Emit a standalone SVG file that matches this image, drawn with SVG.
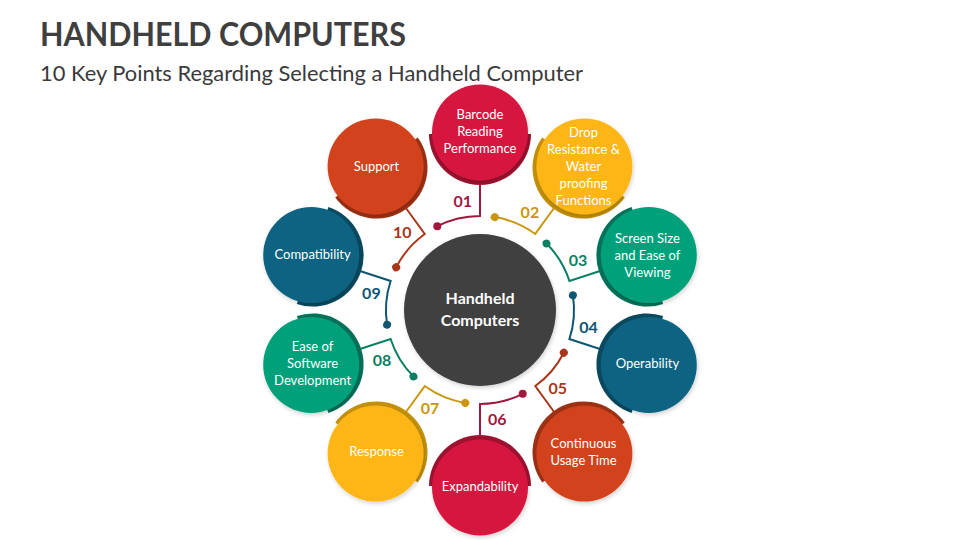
<svg xmlns="http://www.w3.org/2000/svg" width="960" height="540" viewBox="0 0 960 540">
<style>
.title{font-family:Lato,"Open Sans","Liberation Sans",sans-serif;font-weight:bold;font-size:33px;fill:#3f3f3f}
.sub{font-family:Lato,"Open Sans","Liberation Sans",sans-serif;font-size:21px;fill:#3a3a3a}
.nt{font-family:Lato,"Open Sans","Liberation Sans",sans-serif;font-size:13px;fill:#ffffff;text-anchor:middle}
.ct{font-family:Lato,"Open Sans","Liberation Sans",sans-serif;font-size:16px;font-weight:bold;fill:#ffffff;text-anchor:middle}
.num{font-family:Lato,"Open Sans","Liberation Sans",sans-serif;font-size:16px;font-weight:bold;text-anchor:middle}
.conn{fill:none;stroke-width:2}
.crimson{fill:#D7163F}.crimsonD{fill:#9E1230}
.amber{fill:#FDB614}.amberD{fill:#C4900A}
.green{fill:#06A17A}.greenD{fill:#06725A}
.blue{fill:#0F6381}.blueD{fill:#0A4A60}
.orange{fill:#D2431E}.orangeD{fill:#9E3114}
</style>
<defs>
<path id="half" d="M-51 0 A51 51 0 0 0 51 0 Z"/>
<filter id="sh" x="-20%" y="-20%" width="140%" height="140%"><feDropShadow dx="1" dy="2" stdDeviation="2" flood-color="#000" flood-opacity="0.18"/></filter>
</defs>
<text class="title" x="40" y="46" textLength="366" lengthAdjust="spacingAndGlyphs">HANDHELD COMPUTERS</text>
<text class="sub" x="40" y="81" textLength="543" lengthAdjust="spacingAndGlyphs">10 Key Points Regarding Selecting a Handheld Computer</text>

<g id="connectors">
<g id="c01" stroke="#A3173F" fill="#A3173F"><path class="conn" d="M480 183 V216 A94 94 0 0 0 437.3 226.2"/><circle cx="437.3" cy="226.2" r="4" stroke="none"/></g>
<g id="c02" stroke="#C9960E" fill="#C9960E" transform="rotate(36 480 310)"><path class="conn" d="M480 183 V216 A94 94 0 0 0 437.3 226.2"/><circle cx="437.3" cy="226.2" r="4" stroke="none"/></g>
<g id="c03" stroke="#0A7F62" fill="#0A7F62" transform="rotate(72 480 310)"><path class="conn" d="M480 183 V216 A94 94 0 0 0 437.3 226.2"/><circle cx="437.3" cy="226.2" r="4" stroke="none"/></g>
<g id="c04" stroke="#0F5673" fill="#0F5673" transform="rotate(108 480 310)"><path class="conn" d="M480 183 V216 A94 94 0 0 0 437.3 226.2"/><circle cx="437.3" cy="226.2" r="4" stroke="none"/></g>
<g id="c05" stroke="#A8371A" fill="#A8371A" transform="rotate(144 480 310)"><path class="conn" d="M480 183 V216 A94 94 0 0 0 437.3 226.2"/><circle cx="437.3" cy="226.2" r="4" stroke="none"/></g>
<g id="c06" stroke="#A3173F" fill="#A3173F" transform="rotate(180 480 310)"><path class="conn" d="M480 183 V216 A94 94 0 0 0 437.3 226.2"/><circle cx="437.3" cy="226.2" r="4" stroke="none"/></g>
<g id="c07" stroke="#C9960E" fill="#C9960E" transform="rotate(216 480 310)"><path class="conn" d="M480 183 V216 A94 94 0 0 0 437.3 226.2"/><circle cx="437.3" cy="226.2" r="4" stroke="none"/></g>
<g id="c08" stroke="#0A7F62" fill="#0A7F62" transform="rotate(252 480 310)"><path class="conn" d="M480 183 V216 A94 94 0 0 0 437.3 226.2"/><circle cx="437.3" cy="226.2" r="4" stroke="none"/></g>
<g id="c09" stroke="#0F5673" fill="#0F5673" transform="rotate(288 480 310)"><path class="conn" d="M480 183 V216 A94 94 0 0 0 437.3 226.2"/><circle cx="437.3" cy="226.2" r="4" stroke="none"/></g>
<g id="c10" stroke="#A8371A" fill="#A8371A" transform="rotate(324 480 310)"><path class="conn" d="M480 183 V216 A94 94 0 0 0 437.3 226.2"/><circle cx="437.3" cy="226.2" r="4" stroke="none"/></g>
</g>

<g id="labels">
<text class="num" fill="#A3173F" x="462.8" y="207.4">01</text>
<text class="num" fill="#C9960E" x="529.9" y="218">02</text>
<text class="num" fill="#0A7F62" x="578" y="266.1">03</text>
<text class="num" fill="#0F5673" x="588.6" y="333.2">04</text>
<text class="num" fill="#A8371A" x="557.8" y="393.8">05</text>
<text class="num" fill="#A3173F" x="497.2" y="424.6">06</text>
<text class="num" fill="#C9960E" x="430.1" y="414">07</text>
<text class="num" fill="#0A7F62" x="382" y="365.9">08</text>
<text class="num" fill="#0F5673" x="371.4" y="298.8">09</text>
<text class="num" fill="#A8371A" x="402.2" y="238.2">10</text>
</g>

<g id="center">
<circle cx="480" cy="310" r="76" fill="#404040" filter="url(#sh)"/>
<text class="ct" x="480" y="304">Handheld</text>
<text class="ct" x="480" y="326">Computers</text>
</g>

<g id="n01" transform="translate(480 134)">
<use href="#half" class="crimsonD"/>
<circle cx="0" cy="-1.5" r="48" class="crimson" filter="url(#sh)"/>
<text class="nt" y="-15">Barcode</text><text class="nt" y="2">Reading</text><text class="nt" y="19">Performance</text>
</g>
<g id="n02" transform="translate(583.5 167.6)">
<use href="#half" class="amberD" transform="rotate(36)"/>
<circle cx="0.9" cy="-1.2" r="48" class="amber" filter="url(#sh)"/>
<text class="nt" y="-31">Drop</text><text class="nt" y="-14">Resistance &amp;</text><text class="nt" y="3">Water</text><text class="nt" y="20">proofing</text><text class="nt" y="37">Functions</text>
</g>
<g id="n03" transform="translate(647.4 255.6)">
<use href="#half" class="greenD" transform="rotate(72)"/>
<circle cx="1.4" cy="-0.5" r="48" class="green" filter="url(#sh)"/>
<text class="nt" y="-13">Screen Size</text><text class="nt" y="4">and Ease of</text><text class="nt" y="21">Viewing</text>
</g>
<g id="n04" transform="translate(647.4 364.4)">
<use href="#half" class="blueD" transform="rotate(108)"/>
<circle cx="1.4" cy="0.5" r="48" class="blue" filter="url(#sh)"/>
<text class="nt" y="4">Operability</text>
</g>
<g id="n05" transform="translate(583.5 452.4)">
<use href="#half" class="orangeD" transform="rotate(144)"/>
<circle cx="0.9" cy="1.2" r="48" class="orange" filter="url(#sh)"/>
<text class="nt" y="-4">Continuous</text><text class="nt" y="13">Usage Time</text>
</g>
<g id="n06" transform="translate(480 486)">
<use href="#half" class="crimsonD" transform="rotate(180)"/>
<circle cx="0" cy="1.5" r="48" class="crimson" filter="url(#sh)"/>
<text class="nt" y="5">Expandability</text>
</g>
<g id="n07" transform="translate(376.5 452.4)">
<use href="#half" class="amberD" transform="rotate(216)"/>
<circle cx="-0.9" cy="1.2" r="48" class="amber" filter="url(#sh)"/>
<text class="nt" y="4">Response</text>
</g>
<g id="n08" transform="translate(312.6 364.4)">
<use href="#half" class="greenD" transform="rotate(252)"/>
<circle cx="-1.4" cy="0.5" r="48" class="green" filter="url(#sh)"/>
<text class="nt" y="-13">Ease of</text><text class="nt" y="4">Software</text><text class="nt" y="21">Development</text>
</g>
<g id="n09" transform="translate(312.6 255.6)">
<use href="#half" class="blueD" transform="rotate(288)"/>
<circle cx="-1.4" cy="-0.5" r="48" class="blue" filter="url(#sh)"/>
<text class="nt" y="3">Compatibility</text>
</g>
<g id="n10" transform="translate(376.5 167.6)">
<use href="#half" class="orangeD" transform="rotate(324)"/>
<circle cx="-0.9" cy="-1.2" r="48" class="orange" filter="url(#sh)"/>
<text class="nt" y="3">Support</text>
</g>
</svg>
